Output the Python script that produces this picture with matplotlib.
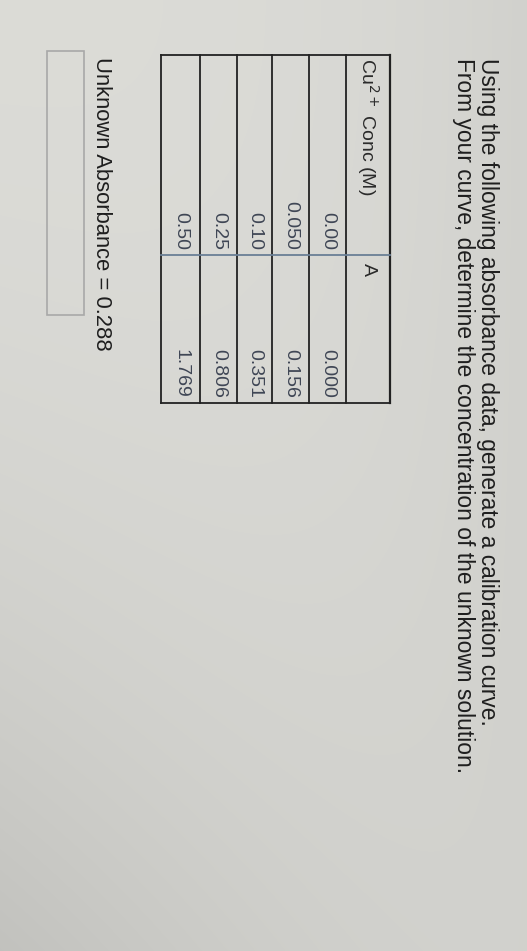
import matplotlib
matplotlib.use("Agg")
import matplotlib.pyplot as plt
import numpy as np

prompt_lines = ["Using the following absorbance data, generate a calibration curve.",
                "From your curve, determine the concentration of the unknown solution."]
header = [r"Cu$^{2+}$ Conc (M)", "A"]
conc = ["0.00", "0.050", "0.10", "0.25", "0.50"]
absorb = ["0.000", "0.156", "0.351", "0.806", "1.769"]
unknown_label = "Unknown Absorbance = 0.288"

W, H = 527, 951
fig = plt.figure(figsize=(W/100, H/100), dpi=100)
ax = fig.add_axes([0, 0, 1, 1])
ax.set_xlim(0, W); ax.set_ylim(H, 0); ax.axis("off")

# background gradient (photo of screen)
yy, xx = np.mgrid[0:H, 0:W]
bg = 0.86 - 0.10 * ((yy / H) ** 2) * (1 - xx / W) - 0.04 * (xx / W) ** 3
ax.imshow(np.dstack([bg, bg, bg * 0.98]), extent=[0, W, H, 0], aspect="auto", zorder=0)

fp = dict(family="Liberation Sans", rotation=-90, color="#1e1e1e")
ax.text(487, 58, prompt_lines[0], fontsize=16.4, ha="center", va="top", **fp)
ax.text(463, 58, prompt_lines[1], fontsize=16.4, ha="center", va="top", **fp)

# table: rows stack leftward in x, columns run down in y
row_x = [390, 346, 309, 272, 237, 200, 161]
col_y = [55, 255, 403]
for x in row_x:
    ax.plot([x, x], [col_y[0], col_y[-1]], color="#222", lw=1.3)
ax.plot([row_x[0], row_x[0]], [col_y[0], col_y[-1]], color="#222", lw=1.6)
for y in col_y:
    ax.plot([row_x[0], row_x[-1]], [y, y], color="#222" if y != 255 else "#6a7f95", lw=1.3)

tp = dict(family="Liberation Sans", rotation=-90, fontsize=14)
xc = [(row_x[i] + row_x[i+1]) / 2 for i in range(len(row_x) - 1)]
ax.text(xc[0], col_y[0] + 3, header[0], ha="center", va="top", color="#2a2a2a", **tp)
ax.text(xc[0], col_y[1] + 8, header[1], ha="center", va="top", color="#2a2a2a", **tp)
for i, (c, a) in enumerate(zip(conc, absorb)):
    ax.text(xc[i+1], col_y[1] - 5, c, ha="center", va="bottom", color="#3f4655", **tp)
    ax.text(xc[i+1], col_y[2] - 5, a, ha="center", va="bottom", color="#3f4655", **tp)

ax.text(101, 57, unknown_label, fontsize=15.8, ha="center", va="top", **fp)
ax.add_patch(plt.Rectangle((47, 51), 37, 264, fill=False, ec="#a8a8a8", lw=1.2))

fig.savefig("out.png", dpi=100)
